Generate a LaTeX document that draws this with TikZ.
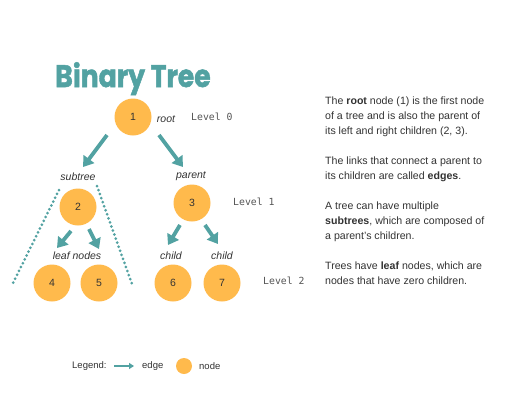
\documentclass[tikz,border=0pt]{standalone}
\usepackage{fontspec}
\setmainfont{Liberation Sans}
\newfontfamily\titlefont[BoldFeatures={FakeBold=1.6}]{Poppins}
\newfontfamily\levelfont{DejaVu Sans Mono}
\usetikzlibrary{arrows.meta}
\definecolor{teal1}{HTML}{52A2A2}
\definecolor{orng}{HTML}{FFBA4C}
\definecolor{txt}{HTML}{333333}
\definecolor{lvl}{HTML}{555555}
\begin{document}
\begin{tikzpicture}[x=1pt,y=-1pt,
  tnode/.style={circle,fill=orng,minimum size=37pt,inner sep=0pt,font=\fontsize{10.5}{12}\selectfont,text=txt},
  edge/.style={draw=teal1,line width=3.8pt,-{Triangle[width=13pt,length=10pt]}},
  lab/.style={font=\fontsize{10.5}{12}\selectfont\itshape,text=txt},
  levellab/.style={font=\fontsize{9.8}{12}\selectfont\levelfont,text=lvl,anchor=west,inner sep=0pt},
  subdots/.style={draw=teal1,line width=3pt,line cap=round,dash pattern=on 0pt off 4.3pt}]
\useasboundingbox[fill=white] (0,0) rectangle (528,408);
% title
\node[anchor=base,text=teal1,font=\fontsize{31}{34}\selectfont\titlefont\bfseries,inner sep=0pt] (title) at (133,87) {\scalebox{0.86}[1]{Binary Tree}};
% tree nodes
\node[tnode] (n1) at (133,117) {1};
\node[tnode] (n2) at (78,207) {2};
\node[tnode] (n3) at (192,203) {3};
\node[tnode] (n4) at (52,283) {4};
\node[tnode] (n5) at (99,283) {5};
\node[tnode] (n6) at (173,283) {6};
\node[tnode] (n7) at (222,283) {7};
% labels
\node[lab] (lroot) at (166,119) {root};
\node[lab] (lsub) at (78,177) {subtree};
\node[lab] (lpar) at (191,176) {parent};
\node[lab] (lleaf) at (77,256) {leaf nodes};
\node[lab] (lc1) at (171,256) {child};
\node[lab] (lc2) at (222,256) {child};
\node[levellab] (lv0) at (191,117) {Level 0};
\node[levellab] (lv1) at (233,202) {Level 1};
\node[levellab] (lv2) at (263,281) {Level 2};
% edges
\draw[edge] ([shift={(-26,18)}]n1.center) -- ([shift={(5,-40)}]n2.center);
\draw[edge] ([shift={(26,18)}]n1.center) -- ([shift={(-9,-36)}]n3.center);
\draw[edge] ([shift={(-7,24)}]n2.center) -- ([shift={(5,-35)}]n4.center);
\draw[edge] ([shift={(11,22)}]n2.center) -- ([shift={(0,-34)}]n5.center);
\draw[edge] ([shift={(-12,22)}]n3.center) -- ([shift={(-5,-38)}]n6.center);
\draw[edge] ([shift={(13,22)}]n3.center) -- ([shift={(-4,-39)}]n7.center);
% subtree dotted boundaries
\coordinate (dl1) at (59,190);
\coordinate (dl2) at (13,283);
\coordinate (dr1) at (97,186);
\coordinate (dr2) at (132,284);
\draw[subdots] (dl1) -- (dl2);
\draw[subdots] (dr1) -- (dr2);
% description
\node[anchor=north west,align=left,text=txt,font=\fontsize{10.6}{15}\selectfont,inner sep=0pt] (desc) at (325,96.5) {%
The \textbf{root} node (1) is the first node\\
of a tree and is also the parent of\\
its left and right children (2, 3).\\[15pt]
The links that connect a parent to\\
its children are called \textbf{edges}.\\[15pt]
A tree can have multiple\\
\textbf{subtrees}, which are composed of\\
a parent's children.\\[15pt]
Trees have \textbf{leaf} nodes, which are\\
nodes that have zero children.};
% legend
\node[anchor=west,text=txt,font=\fontsize{9.5}{12}\selectfont,inner sep=0pt] (leg) at (72,366) {Legend:};
\coordinate (la1) at (114,366);
\coordinate (la2) at (134,366);
\draw[draw=teal1,line width=1.6pt,-{Triangle[width=6pt,length=5pt]}] (la1) -- (la2);
\node[anchor=west,text=txt,font=\fontsize{9.5}{12}\selectfont,inner sep=0pt] (legedge) at (142,366) {edge};
\node[circle,fill=orng,minimum size=16pt,inner sep=0pt] (legnode) at (184,366) {};
\node[anchor=west,text=txt,font=\fontsize{9.5}{12}\selectfont,inner sep=0pt] (legnodet) at (199,366) {node};
\end{tikzpicture}
\end{document}
